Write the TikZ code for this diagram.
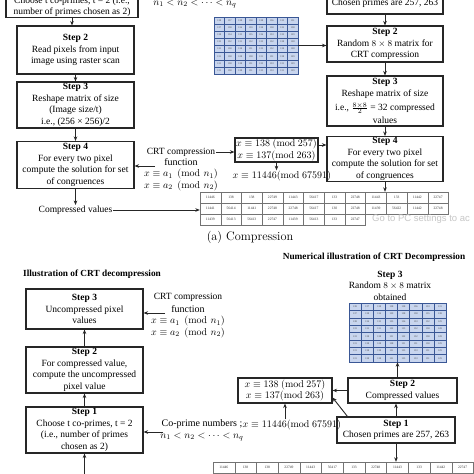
\documentclass[tikz,border=0pt]{standalone}
\usepackage{fontspec}
\usepackage{amsmath}
\newfontfamily\tnr{Liberation Serif}
\newfontfamily\wmfont{Liberation Sans}
\usetikzlibrary{arrows.meta}
\definecolor{cellfill}{HTML}{C8D5EE}
\definecolor{cellline}{HTML}{3A5795}
\tikzset{
 bx/.style={draw=black!85, line width=1.1pt, align=center, inner sep=1pt, font=\tnr\fontsize{9.5}{11.5}\selectfont},
 eqbx/.style={draw=black!85, line width=1.1pt, align=center, inner sep=1pt, font=\tnr\fontsize{10}{11.5}\selectfont},
 txt/.style={align=center, inner sep=0.5pt, font=\tnr\fontsize{9.5}{11.5}\selectfont},
 eqtxt/.style={align=center, inner sep=0.5pt, font=\tnr\fontsize{10}{11.5}\selectfont},
 ttl/.style={align=center, inner sep=0.5pt, font=\tnr\bfseries\fontsize{9.3}{11.5}\selectfont},
 arr/.style={-{Stealth[length=4.5pt,width=3.6pt]}, line width=0.9pt, draw=black!85},
 mcell/.style={draw=cellline, fill=cellfill, line width=0.35pt, inner sep=0pt, font=\tnr\fontsize{2.5}{3}\selectfont, text=black!75},
 tcell/.style={draw=black!55, line width=0.4pt, inner sep=0pt, font=\tnr\fontsize{3.6}{4}\selectfont, text=black!80}
}
\newcommand\drawmat[5]{%
 \foreach \rowvals [count=\r] in {{138,137,138,138,138,136,133,131},{137,138,134,139,138,138,135,138},{138,134,133,135,136,133,132,129},{133,132,131,132,133,132,138,128},{133,138,138,131,132,132,138,128},{131,138,128,138,131,131,138,129},{131,138,138,131,133,133,131,129},{131,138,138,131,133,133,131,129}}{%
  \foreach \v [count=\c] in \rowvals {%
   \node[mcell, minimum width=#4pt, minimum height=#5pt] (#1-\r-\c) at ({#2+(\c-0.5)*#4},{#3+(\r-0.5)*#5}) {\v};
  }%
 }%
 \draw[cellline, line width=0.8pt] (#2,#3) rectangle ({#2+8*#4},{#3+8*#5});
}
\newcommand\drawtabrow[6]{%
 \foreach \v [count=\c] in {#6} {%
  \node[tcell, minimum width=#5pt, minimum height=11pt] (#1-#2-\c) at ({#3+(\c-0.5)*#5},{#4+(#2-0.5)*11}) {\v};
 }%
}
\begin{document}
\begin{tikzpicture}[x=1pt,y=-1pt]
\clip (0,0) rectangle (474,474);
\fill[white] (0,0) rectangle (474,474);

% ---------- top half: compression ----------
\node[bx, minimum width=132pt, minimum height=30pt] (l1) at (72,1) {\textbf{Step 1}\\Choose t co-primes, t = 2 (i.e.,\\number of primes chosen as 2)};
\node[bx, minimum width=117pt, minimum height=48pt] (l2) at (75.5,50) {\textbf{Step 2}\\Read pixels from input\\image using raster scan};
\node[bx, minimum width=117pt, minimum height=46pt] (l3) at (75.5,105) {\textbf{Step 3}\\Reshape matrix of size\\(Image size/t)\\i.e., (256 × 256)/2};
\node[bx, minimum width=117pt, minimum height=47pt] (l4) at (75.5,165) {\textbf{Step 4}\\For every two pixel\\compute the solution for set\\of congruences};
\node[txt] (cv) at (75.5,210) {Compressed values};

\node[txt] (crt1) at (181,152) {CRT compression};
\node[eqtxt] (crt2) at (181,174.5) {function\\$x\equiv a_1 \pmod{n_1}$\\$x\equiv a_2 \pmod{n_2}$};
\coordinate (crtin) at (155,166);

\node[eqbx, minimum width=83pt, minimum height=24pt] (eqA) at (276.5,150) {$x\equiv 138\ (\mathrm{mod}\ 257)$\\$x\equiv 137(\mathrm{mod}\ 263)$};
\node[eqtxt, anchor=west] (resA) at (232,176) {$x\equiv 11446(\mathrm{mod}\ 67591)$};

\node[eqtxt] (nA) at (195,4) {$n_1 < n_2 < \cdots < n_q$};

\node[bx, minimum width=116pt, minimum height=32pt] (r1) at (385,-2) {\textbf{Step 1}\\Chosen primes are 257, 263};
\node[bx, minimum width=116pt, minimum height=36pt] (r2) at (385,44) {\textbf{Step 2}\\Random $8\times 8$ matrix for\\CRT compression};
\node[bx, minimum width=116pt, minimum height=50pt] (r3) at (385,101) {\textbf{Step 3}\\Reshape matrix of size\\[3pt]i.e., $\frac{8\times 8}{2}$ = 32 compressed\\[1pt]values};
\node[bx, minimum width=116pt, minimum height=44pt] (r4) at (385,159) {\textbf{Step 4}\\For every two pixel\\compute the solution for set\\of congruences};

\node[minimum width=84pt, minimum height=57pt, inner sep=0pt] (gA) at (256,45.5) {};
\drawmat{mA}{214}{17}{10.5}{7.125}

\drawtabrow{tA}{1}{200}{192}{20.7}{11446,138,138,22749,11443,56417,133,22748,11443,133,11442,22747}
\drawtabrow{tA}{2}{200}{192}{20.7}{11441,56414,11441,22748,22748,56417,130,22748,11439,56422,11442,22748}
\drawtabrow{tA}{3}{200}{192}{20.7}{11439,56413,56413,22747,11439,56413,133,22747}

\node[anchor=west, inner sep=0pt, font=\wmfont\fontsize{9.5}{11}\selectfont, text=black!22] (wm) at (372,219) {Go to PC settings to ac};

\node[inner sep=0pt, font=\fontsize{12.3}{14}\selectfont] (cap) at (250,237) {(a) Compression};

\draw[arr] (l1.south) -- (l1.south |- l2.north);
\draw[arr] (l2.south) -- (l3.north);
\draw[arr] (l3.south) -- (l4.north);
\draw[arr] (l4.south) -- (cv.north);
\draw[arr] (cv.east) -- (cv.east -| tA-2-1.west);
\draw[arr] (crt1.east) -- (crt1.east -| eqA.west);
\draw[arr] (crtin) -- (crtin -| l4.east);
\draw[arr] ([yshift=5pt]eqA.east) -- ([yshift=5pt]eqA.east -| r4.west);
\draw[arr] (eqA.south) -- (eqA.south |- resA.north);
\draw[arr] (r1.south) -- (r2.north);
\draw[arr] (r2.south) -- (r3.north);
\draw[arr] (r3.south) -- (r4.north);
\draw[arr] (r4.south) -- (r4.south |- tA-1-1.north);
\draw[arr] (gA.east) -- (gA.east -| r2.west);

% ---------- bottom half: decompression ----------
\node[ttl] (tB1) at (92,274) {Illustration of CRT decompression};
\node[ttl] (tB2) at (374,257) {Numerical illustration of CRT Decompression};
\node[txt] (tB3) at (390,285.5) {\textbf{Step 3}\\Random $8\times 8$ matrix\\obtained};

\node[minimum width=97pt, minimum height=59pt, inner sep=0pt] (gB) at (397.5,332.5) {};
\drawmat{mB}{349}{303}{12.125}{7.375}

\node[bx, minimum width=117pt, minimum height=40pt] (lb3) at (84.5,309) {\textbf{Step 3}\\Uncompressed pixel\\values};
\node[bx, minimum width=117pt, minimum height=46pt] (lb2) at (84.5,370) {\textbf{Step 2}\\For compressed value,\\compute the uncompressed\\pixel value};
\node[bx, minimum width=117pt, minimum height=46pt] (lb1) at (84.5,430) {\textbf{Step 1}\\Choose t co-primes, t = 2\\(i.e., number of primes\\chosen as 2)};
\coordinate (bot) at (84.5,474);

\node[txt] (crtB1) at (188,297) {CRT compression};
\node[eqtxt] (crtB2) at (188,321.5) {function\\$x\equiv a_1 \pmod{n_1}$\\$x\equiv a_2 \pmod{n_2}$};
\coordinate (crtBin) at (165,313);

\node[eqtxt] (cp) at (202,430.5) {Co-prime numbers ;\\$n_1 < n_2 < \cdots < n_q$};
\coordinate (cpin) at (163,432);

\node[eqbx, minimum width=94pt, minimum height=25pt] (eqB) at (285,390.5) {$x\equiv 138\ (\mathrm{mod}\ 257)$\\$x\equiv 137(\mathrm{mod}\ 263)$};
\node[eqtxt, anchor=west] (resB) at (242,425) {$x\equiv 11446(\mathrm{mod}\ 67591)$};

\node[bx, minimum width=109pt, minimum height=25pt] (rb2) at (402.5,390.5) {\textbf{Step 2}\\Compressed values};
\node[bx, minimum width=118pt, minimum height=26pt] (rb1) at (396,430) {\textbf{Step 1}\\Chosen primes are 257, 263};

\drawtabrow{tB}{1}{213}{462}{21.7}{11446,138,138,22749,11443,56417,133,22748,11443,133,11442,22747}
\drawtabrow{tB}{2}{213}{462}{21.7}{11441,56414,11441,22748,22748,56417,130,22748,11439,56422,11442,22748}

\draw[arr] (lb2.north) -- (lb3.south);
\draw[arr] (lb1.north) -- (lb2.south);
\draw[arr] (bot) -- (lb1.south);
\draw[arr] (crtBin) -- (crtBin -| lb3.east);
\draw[arr] (cpin) -- (cpin -| lb1.east);
\draw[arr] (resB.north -| eqB.south) -- (eqB.south);
\draw[arr] (rb2.west) -- (rb2.west -| eqB.east);
\draw[arr] ([xshift=11pt]rb1.north west) -- ([yshift=-7pt]eqB.east);
\draw[arr] (rb1.north) -- (rb1.north |- rb2.south);
\draw[arr] (gB.south |- rb2.north) -- (gB.south);
\draw[arr] (rb1.south) -- (rb1.south |- tB-1-1.north);
\end{tikzpicture}
\end{document}
